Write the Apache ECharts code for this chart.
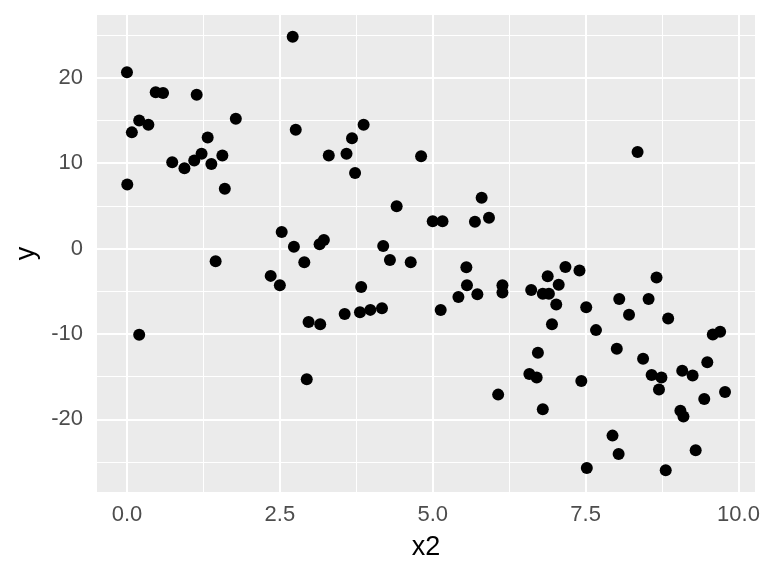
<!DOCTYPE html>
<html>
<head>
<meta charset="utf-8">
<script src="https://cdn.jsdelivr.net/npm/echarts@6/dist/echarts.min.js"></script>
<style>html,body{margin:0;padding:0;background:#fff}#c{width:768px;height:576px}</style>
</head>
<body>
<div id="c"></div>
<script>
const xs = [2.71,0.00,0.47,0.59,1.14,1.78,0.20,0.35,0.08,2.76,3.30,1.32,1.22,1.10,0.74,0.94,1.38,1.56,0.005,1.60,
2.53,2.73,3.15,3.22,1.45,2.90,2.35,2.50,0.20,2.97,3.16,2.94,3.87,3.68,3.59,3.73,4.81,4.41,5.80,5.00,
5.16,5.69,5.92,4.19,4.30,4.64,5.55,5.56,5.42,5.73,6.14,6.14,6.61,3.83,3.56,3.81,3.98,4.17,5.13,6.72,
6.58,6.70,6.07,6.80,8.35,7.17,7.40,6.88,7.06,6.80,6.90,8.66,7.02,7.51,8.05,8.53,8.21,8.85,6.95,7.67,
9.58,9.70,8.01,8.44,9.49,7.43,8.58,8.74,9.08,9.25,8.70,9.78,9.44,9.05,9.10,7.94,8.04,9.30,7.52,8.81];
const ys = [24.8,20.65,18.3,18.2,18.0,15.2,15.0,14.5,13.6,13.9,10.9,13.0,11.1,10.3,10.1,9.4,9.9,10.9,7.5,7.0,
1.95,0.2,0.5,1.0,-1.5,-1.6,-3.2,-4.3,-10.1,-8.6,-8.85,-15.3,14.5,12.9,11.1,8.85,10.8,4.95,5.96,3.2,
3.2,3.15,3.6,0.3,-1.35,-1.6,-2.2,-4.3,-5.66,-5.35,-4.3,-5.15,-4.85,-4.5,-7.65,-7.45,-7.18,-7.0,-7.2,-12.2,
-14.7,-15.1,-17.1,-18.8,11.3,-2.15,-2.57,-3.24,-4.25,-5.3,-5.3,-3.4,-6.55,-6.86,-5.9,-5.9,-7.76,-8.2,-8.85,-9.55,
-10.06,-9.75,-11.74,-12.9,-13.3,-15.5,-14.8,-15.1,-14.3,-14.85,-16.5,-16.8,-17.6,-19.0,-19.65,-21.9,-24.06,-23.6,-25.7,-25.96];
const xMajor = [0, 2.5, 5, 7.5, 10];
const xMinor = [1.25, 3.75, 6.25, 8.75];
const yMajor = [-20, -10, 0, 10, 20];
const yMinor = [-25, -15, -5, 5, 15, 25];
const xRange = [-0.49, 10.27];
const yRange = [-28.5, 27.34];

const points = xs.map((x, i) => [x, ys[i]]);
const gridLines = []
  .concat(xMinor.map(v => ({xAxis: v, lineStyle: {width: 1}})))
  .concat(yMinor.map(v => ({yAxis: v, lineStyle: {width: 1}})))
  .concat(xMajor.map(v => ({xAxis: v, lineStyle: {width: 2}})))
  .concat(yMajor.map(v => ({yAxis: v, lineStyle: {width: 2}})));

const font = '"Liberation Sans", Arial, sans-serif';
const chart = echarts.init(document.getElementById('c'), null, {renderer: 'canvas'});
chart.setOption({
  animation: false,
  grid: {left: 97, right: 13, top: 15, bottom: 84, show: true, backgroundColor: '#EBEBEB', borderWidth: 0},
  xAxis: {
    type: 'value', min: xRange[0], max: xRange[1],
    name: 'x2', nameLocation: 'middle', nameGap: 42,
    nameTextStyle: {fontFamily: font, fontSize: 27, color: '#000'},
    axisLine: {show: false},
    splitLine: {show: false},
    axisTick: {show: true, customValues: xMajor, length: 6, lineStyle: {color: '#333333', width: 2}},
    axisLabel: {customValues: xMajor, formatter: v => Number(v).toFixed(1), fontFamily: font, fontSize: 22, color: '#4D4D4D', margin: 12}
  },
  yAxis: {
    type: 'value', min: yRange[0], max: yRange[1],
    name: 'y', nameLocation: 'middle', nameGap: 50, nameRotate: 90,
    nameTextStyle: {fontFamily: font, fontSize: 27, color: '#000'},
    axisLine: {show: false},
    splitLine: {show: false},
    axisTick: {show: true, customValues: yMajor, length: 6, lineStyle: {color: '#333333', width: 2}},
    axisLabel: {customValues: yMajor, fontFamily: font, fontSize: 22, color: '#4D4D4D', margin: 14}
  },
  series: [
    {
      type: 'line', data: [], z: 1, silent: true,
      markLine: {silent: true, symbol: 'none', label: {show: false}, animation: false,
        lineStyle: {color: '#FFFFFF', type: 'solid'}, emphasis: {disabled: true}, data: gridLines}
    },
    {
      type: 'scatter', data: points, z: 5, symbol: 'circle', symbolSize: 12,
      itemStyle: {color: '#000000', opacity: 1}
    }
  ]
});
</script>
</body>
</html>
